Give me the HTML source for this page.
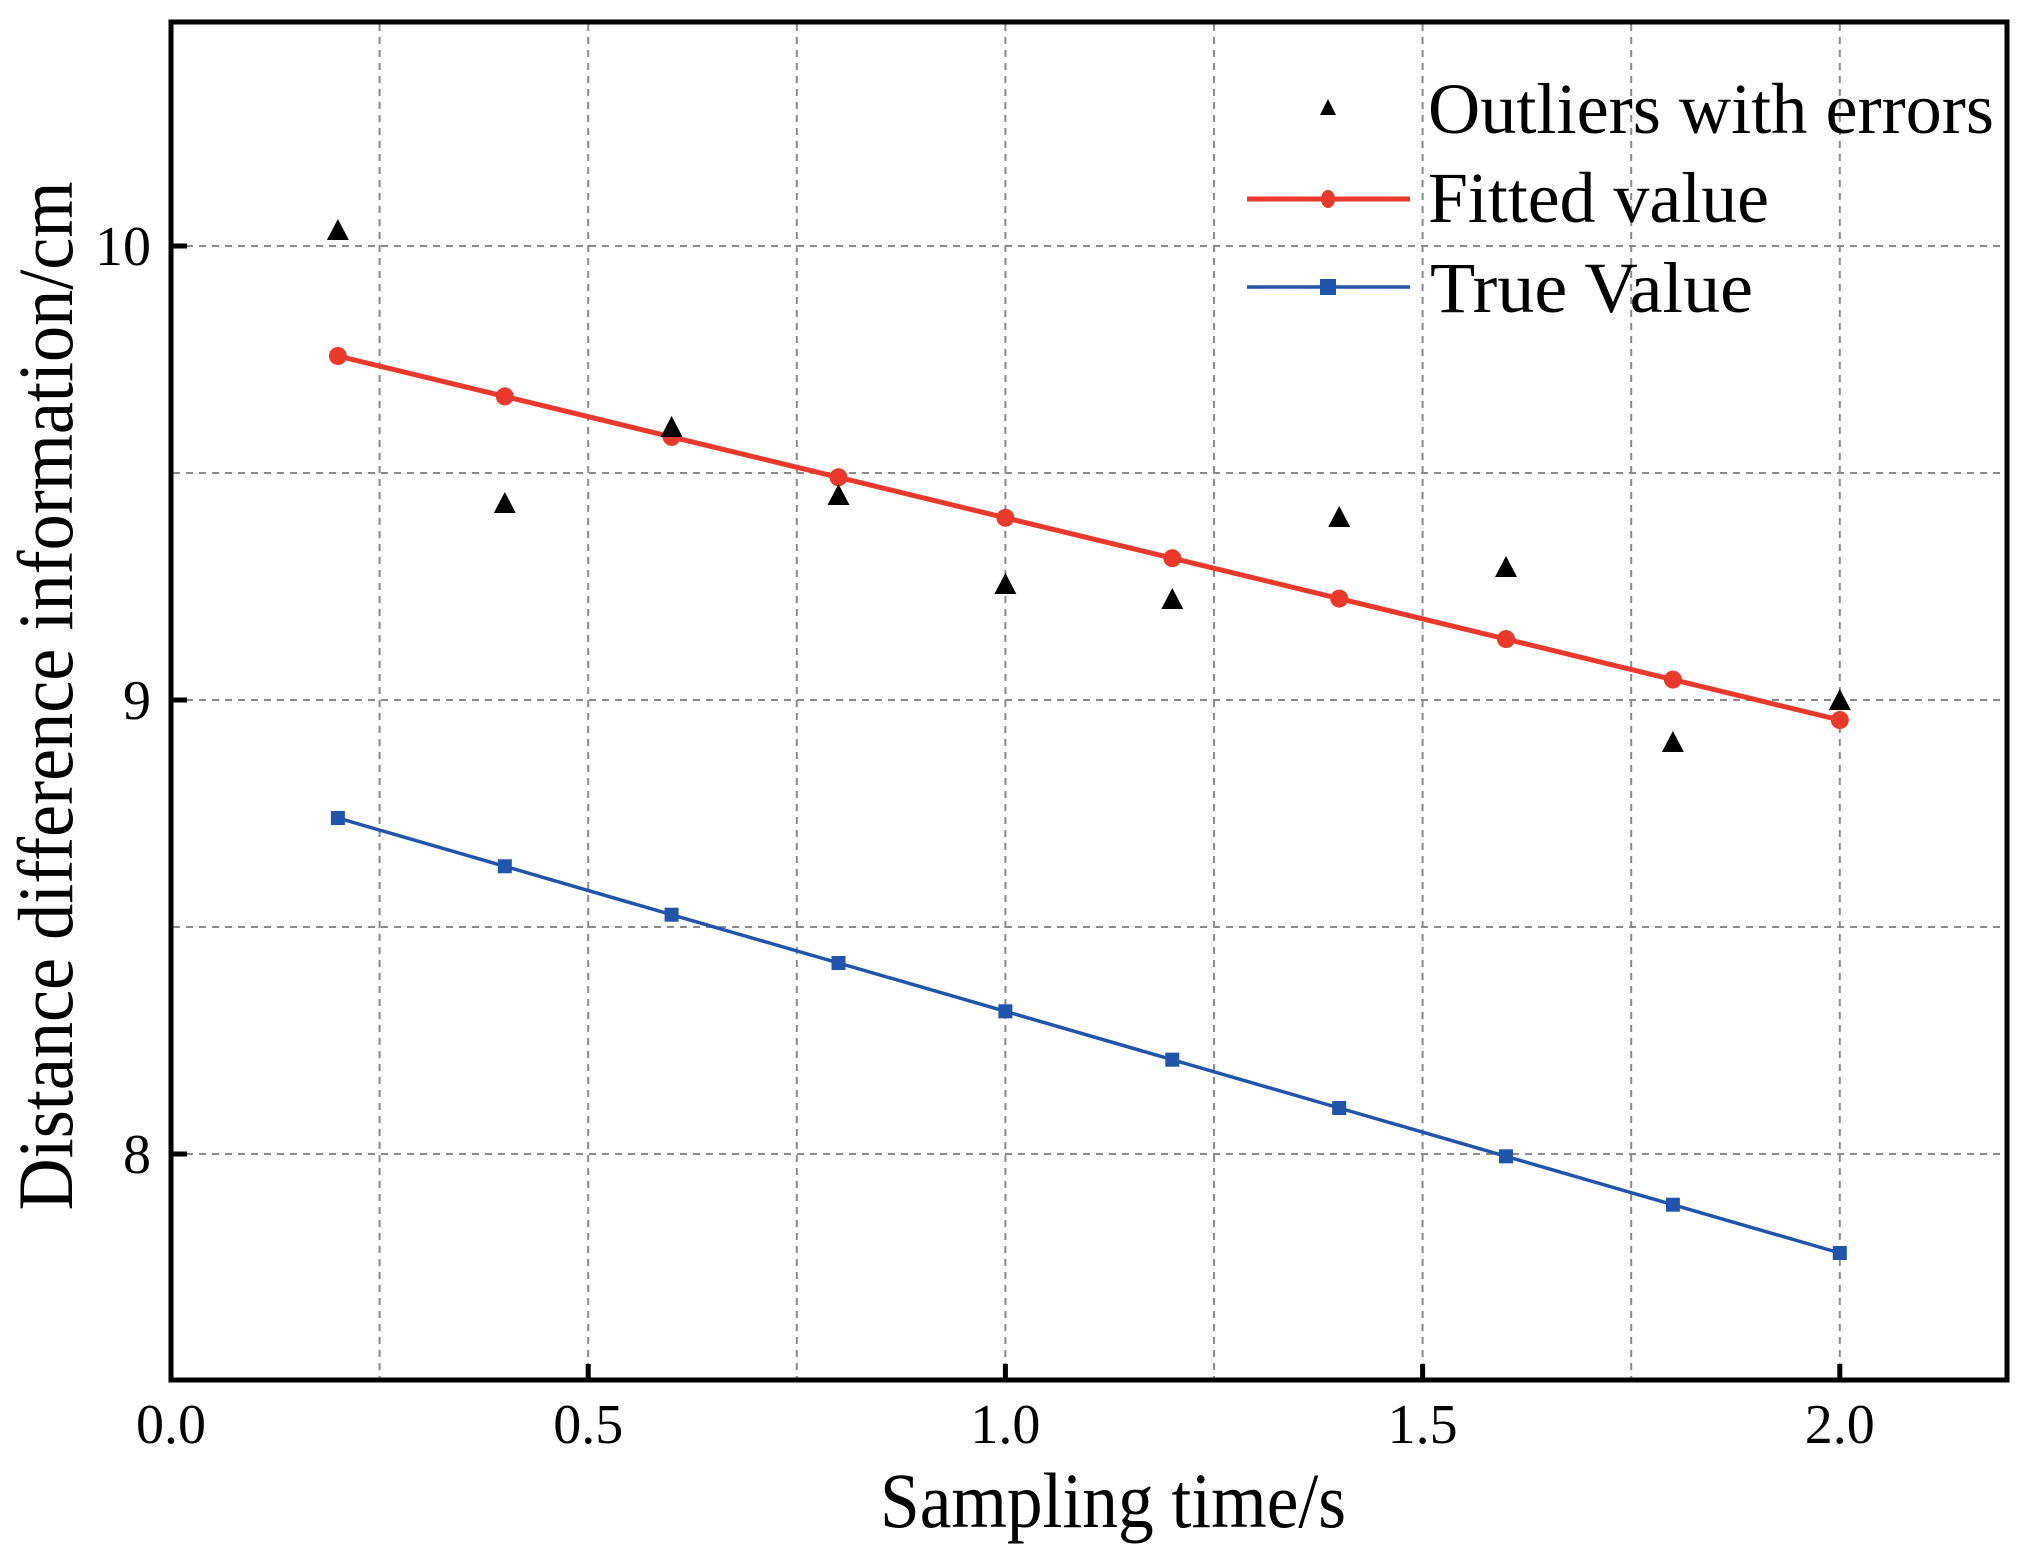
<!DOCTYPE html>
<html><head><meta charset="utf-8"><style>html,body{margin:0;padding:0;background:#fff}svg{display:block}</style></head>
<body>
<svg width="2030" height="1567" viewBox="0 0 2030 1567" xmlns="http://www.w3.org/2000/svg" font-family="'Liberation Serif', serif">
<rect width="2030" height="1567" fill="#fff"/>
<g stroke="#8a8a8a" stroke-width="2" stroke-dasharray="7,6" fill="none">
<line x1="379.6" y1="24" x2="379.6" y2="1378"/>
<line x1="588.2" y1="24" x2="588.2" y2="1378"/>
<line x1="796.8" y1="24" x2="796.8" y2="1378"/>
<line x1="1005.4" y1="24" x2="1005.4" y2="1378"/>
<line x1="1214" y1="24" x2="1214" y2="1378"/>
<line x1="1422.6" y1="24" x2="1422.6" y2="1378"/>
<line x1="1631.2" y1="24" x2="1631.2" y2="1378"/>
<line x1="1839.8" y1="24" x2="1839.8" y2="1378"/>
<line x1="173" y1="246" x2="2005" y2="246"/>
<line x1="173" y1="473" x2="2005" y2="473"/>
<line x1="173" y1="700" x2="2005" y2="700"/>
<line x1="173" y1="927" x2="2005" y2="927"/>
<line x1="173" y1="1154" x2="2005" y2="1154"/>
</g>
<rect x="171" y="22" width="1836" height="1358" fill="none" stroke="#000" stroke-width="5"/>
<g stroke="#000" stroke-width="5">
<line x1="588.2" y1="1380" x2="588.2" y2="1364"/>
<line x1="1005.4" y1="1380" x2="1005.4" y2="1364"/>
<line x1="1422.6" y1="1380" x2="1422.6" y2="1364"/>
<line x1="1839.8" y1="1380" x2="1839.8" y2="1364"/>
<line x1="171" y1="246" x2="187" y2="246"/>
<line x1="171" y1="700" x2="187" y2="700"/>
<line x1="171" y1="1154" x2="187" y2="1154"/>
</g>
<g font-size="56" fill="#000" text-anchor="middle">
<text x="171" y="1443">0.0</text>
<text x="588.2" y="1443">0.5</text>
<text x="1005.4" y="1443">1.0</text>
<text x="1422.6" y="1443">1.5</text>
<text x="1839.8" y="1443">2.0</text>
</g>
<g font-size="56" fill="#000" text-anchor="end">
<text x="151" y="265">10</text>
<text x="151" y="719">9</text>
<text x="151" y="1173">8</text>
</g>
<text x="1113" y="1527" font-size="78" text-anchor="middle" textLength="466" lengthAdjust="spacingAndGlyphs">Sampling time/s</text>
<text transform="translate(72,696) rotate(-90)" font-size="78" text-anchor="middle" textLength="1029" lengthAdjust="spacingAndGlyphs">Distance difference information/cm</text>
<polyline fill="none" stroke="#e8392b" stroke-width="5" points="337.9,356 504.8,396.4 671.6,436.9 838.5,477.3 1005.4,517.8 1172.3,558.2 1339.2,598.6 1506,639.1 1672.9,679.6 1839.8,720"/>
<g fill="#e8392b">
<circle cx="337.9" cy="356" r="9"/><circle cx="504.8" cy="396.4" r="9"/><circle cx="671.6" cy="436.9" r="9"/><circle cx="838.5" cy="477.3" r="9"/><circle cx="1005.4" cy="517.8" r="9"/><circle cx="1172.3" cy="558.2" r="9"/><circle cx="1339.2" cy="598.6" r="9"/><circle cx="1506" cy="639.1" r="9"/><circle cx="1672.9" cy="679.6" r="9"/><circle cx="1839.8" cy="720" r="9"/>
</g>
<polyline fill="none" stroke="#2155ac" stroke-width="3.5" points="337.9,818 504.8,866.3 671.6,914.7 838.5,963 1005.4,1011.3 1172.3,1059.7 1339.2,1108 1506,1156.3 1672.9,1204.7 1839.8,1253"/>
<g fill="#2155ac">
<rect x="330.9" y="811" width="14" height="14"/><rect x="497.8" y="859.3" width="14" height="14"/><rect x="664.6" y="907.7" width="14" height="14"/><rect x="831.5" y="956" width="14" height="14"/><rect x="998.4" y="1004.3" width="14" height="14"/><rect x="1165.3" y="1052.7" width="14" height="14"/><rect x="1332.2" y="1101" width="14" height="14"/><rect x="1499" y="1149.3" width="14" height="14"/><rect x="1665.9" y="1197.7" width="14" height="14"/><rect x="1832.8" y="1246" width="14" height="14"/>
</g>
<g fill="#000">
<polygon points="337.9,219 326.9,240 348.9,240"/>
<polygon points="504.8,492 493.8,513 515.8,513"/>
<polygon points="671.6,416 660.6,437 682.6,437"/>
<polygon points="838.5,484 827.5,505 849.5,505"/>
<polygon points="1005.4,573 994.4,594 1016.4,594"/>
<polygon points="1172.3,588 1161.3,609 1183.3,609"/>
<polygon points="1339.2,506 1328.2,527 1350.2,527"/>
<polygon points="1506,556 1495,577 1517,577"/>
<polygon points="1672.9,731 1661.9,752 1683.9,752"/>
<polygon points="1839.8,689 1828.8,710 1850.8,710"/>
</g>
<polygon points="1328,99 1320,115 1336,115" fill="#000"/>
<line x1="1247" y1="199" x2="1410" y2="199" stroke="#e8392b" stroke-width="5"/>
<ellipse cx="1328" cy="199" rx="7" ry="9" fill="#e8392b"/>
<line x1="1247" y1="287" x2="1410" y2="287" stroke="#2155ac" stroke-width="3.5"/>
<rect x="1320" y="279" width="16" height="16" fill="#2155ac"/>
<g font-size="72" fill="#000">
<text x="1428" y="133" textLength="566" lengthAdjust="spacingAndGlyphs">Outliers with errors</text>
<text x="1428" y="222" textLength="341" lengthAdjust="spacingAndGlyphs">Fitted value</text>
<text x="1430" y="312" textLength="323" lengthAdjust="spacingAndGlyphs">True Value</text>
</g>
</svg>
</body></html>
